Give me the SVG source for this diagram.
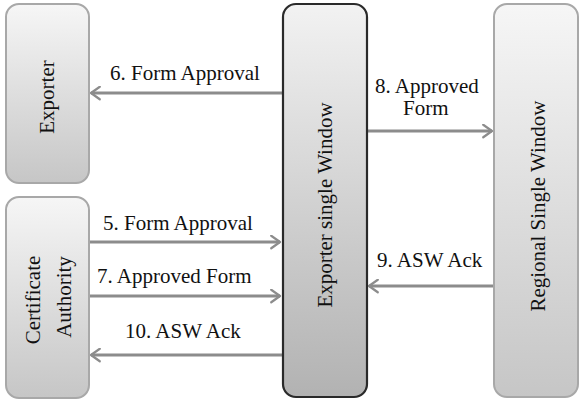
<svg xmlns="http://www.w3.org/2000/svg" width="581" height="403" viewBox="0 0 581 403">
<style>
text{font-family:"Liberation Serif","Times New Roman",serif;font-size:21px;fill:#111}
.lbl{text-anchor:start}
.vt{text-anchor:middle}
.box{fill:url(#gl);stroke:#a8a8a8;stroke-width:2}
.dbox{fill:url(#gd);stroke:#2a2a2a;stroke-width:2.2}
.conn{stroke:#8c8c8c;stroke-width:3;fill:none;marker-end:url(#ah)}
</style>
<defs>
<linearGradient id="gl" x1="0" y1="0" x2="0" y2="1">
<stop offset="0" stop-color="#f6f6f6"/>
<stop offset="1" stop-color="#c6c6c6"/>
</linearGradient>
<linearGradient id="gd" x1="0" y1="0" x2="0" y2="1">
<stop offset="0" stop-color="#f2f2f2"/>
<stop offset="1" stop-color="#b2b2b2"/>
</linearGradient>
<marker id="ah" viewBox="0 0 12 12" refX="10" refY="6" markerWidth="5" markerHeight="5" orient="auto" markerUnits="strokeWidth">
<path d="M3,1 L10,6 L3,11" fill="none" stroke="#8c8c8c" stroke-width="1.8" stroke-linecap="round" stroke-linejoin="round"/>
</marker>
</defs>
<rect width="581" height="403" fill="#ffffff"/>
<g id="connectors">
<line class="conn" x1="282" y1="93" x2="91" y2="93"/>
<line class="conn" x1="89" y1="242" x2="280" y2="242"/>
<line class="conn" x1="89" y1="296" x2="280" y2="296"/>
<line class="conn" x1="282" y1="355" x2="91" y2="355"/>
<line class="conn" x1="367" y1="131" x2="492" y2="131"/>
<line class="conn" x1="494" y1="286" x2="369" y2="286"/>
<text class="lbl" x="110" y="80">6. Form Approval</text>
<text class="lbl" x="103" y="230">5. Form Approval</text>
<text class="lbl" x="97" y="283">7. Approved Form</text>
<text class="lbl" x="125" y="338">10. ASW Ack</text>
<text class="lbl" x="375" y="93">8. Approved</text>
<text class="lbl" x="403" y="115">Form</text>
<text class="lbl" x="377" y="267">9. ASW Ack</text>
</g>
<g id="exporter">
<rect class="box" x="6" y="4" width="83" height="179" rx="13"/>
<text class="vt" transform="translate(54,97) rotate(-90)">Exporter</text>
</g>
<g id="certificate-authority">
<rect class="box" x="6" y="197" width="83" height="201" rx="13"/>
<text class="vt" transform="translate(40,300) rotate(-90)">Certificate</text>
<text class="vt" transform="translate(71,297) rotate(-90)">Authority</text>
</g>
<g id="exporter-single-window">
<rect class="dbox" x="283" y="4" width="84" height="393" rx="13"/>
<text class="vt" transform="translate(332,205) rotate(-90)">Exporter single Window</text>
</g>
<g id="regional-single-window">
<rect class="box" x="494" y="4" width="84" height="393" rx="13"/>
<text class="vt" transform="translate(545,206) rotate(-90)">Regional Single Window</text>
</g>
</svg>
